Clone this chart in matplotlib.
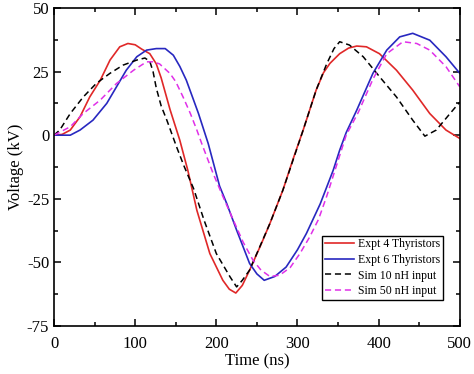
import numpy as np
import matplotlib
matplotlib.use('Agg')
import matplotlib.pyplot as plt
from matplotlib.ticker import MultipleLocator

plt.rcParams['font.family'] = ['Liberation Serif', 'DejaVu Serif']
plt.rcParams['axes.unicode_minus'] = False

# Expt 4 Thyristors
t_exp4 = [0, 10, 20, 32, 44, 57, 69, 81, 91, 100, 108, 118, 126, 132, 143, 155, 165, 176,
          192, 208, 216, 224, 232, 241, 255, 266, 282, 295, 307, 323, 332, 340, 352, 363,
          373, 385, 401, 422, 442, 463, 483, 500]
v_exp4 = [0, 0.3, 2, 7.2, 15, 21.6, 29.5, 34.7, 36, 35.5, 33.8, 32, 28, 22.5, 10, -2, -14,
          -29.5, -46.5, -57, -60.5, -62, -59, -53, -43, -34.7, -21.6, -9, 2, 17.7, 24.5,
          28.2, 32, 34.2, 35, 34.7, 32, 25.5, 17.7, 8.5, 2, -1.3]

# Expt 6 Thyristors
t_exp6 = [0, 10, 20, 32, 48, 65, 77, 89, 102, 114, 126, 137, 147, 155, 163, 170, 178, 190,
          204, 213, 225, 241, 250, 259, 272, 286, 300, 311, 328, 344, 352, 360, 373, 393,
          410, 426, 442, 463, 483, 500]
v_exp6 = [0, 0, 0, 2, 5.9, 12.5, 19, 25.5, 30.8, 33.4, 34, 34, 31.4, 27, 21.6, 15.5, 8.5,
          -3.3, -20, -27, -37.3, -50.4, -54.5, -57, -55.5, -51.8, -45, -38.6, -27, -13.8,
          -5.9, 1, 9.8, 24.3, 33.4, 38.6, 40, 37.3, 30.8, 24.3]

# Sim 10 nH input
t_sim10 = [0, 7, 20, 36, 52, 69, 85, 102, 112, 118, 122, 126, 132, 139, 151, 160, 172, 185,
           200, 217, 225, 232, 241, 266, 282, 307, 323, 336, 345, 352, 364, 381, 401, 422,
           442, 457, 471, 488, 500]
v_sim10 = [0, 2, 8.5, 15, 20.3, 24.3, 27.5, 29.5, 30.3, 29, 25, 18.5, 11.5, 5.9, -4.6, -12,
           -21, -33.5, -46.5, -55.7, -59.6, -57, -53, -34.7, -21.6, 2, 17.7, 28, 34, 36.7,
           35.4, 30.8, 23, 15, 5.9, -0.4, 2, 8.5, 13]

# Sim 50 nH input
t_sim50 = [0, 20, 36, 57, 77, 98, 114, 122, 130, 143, 150, 159, 168, 176, 182, 196, 208, 221,
           233, 245, 255, 266, 278, 291, 303, 315, 326, 336, 348, 360, 375, 393, 410, 430,
           447, 463, 483, 500]
v_sim50 = [0, 3.3, 8.5, 13.8, 20.3, 25.5, 28.8, 28.8, 28, 24.2, 21, 15, 8.5, 2, -3.3, -15,
           -24, -33.4, -42, -49, -53, -55.5, -55, -52, -46.5, -40, -33, -24, -12, 0, 9, 22,
           32, 36.7, 36, 33.4, 26.9, 19]

fig = plt.figure(figsize=(4.74, 3.74), dpi=100)
ax = fig.add_axes([0.114, 0.128, 0.856, 0.851])

ax.plot(t_exp4, v_exp4, color='#e02828', lw=1.2, label='Expt 4 Thyristors')
ax.plot(t_exp6, v_exp6, color='#2828c0', lw=1.2, label='Expt 6 Thyristors')
ax.plot(t_sim10, v_sim10, color='black', lw=1.1, ls=(0, (4, 2.5)), label='Sim 10 nH input')
ax.plot(t_sim50, v_sim50, color='#e030e8', lw=1.1, ls=(0, (4, 2.5)), label='Sim 50 nH input')

ax.set_xlim(0, 500)
ax.set_ylim(-75, 50)
ax.xaxis.set_major_locator(MultipleLocator(100))
ax.xaxis.set_minor_locator(MultipleLocator(50))
ax.yaxis.set_major_locator(MultipleLocator(25))
ax.yaxis.set_minor_locator(MultipleLocator(12.5))
ax.tick_params(which='both', direction='in', top=True, right=True, width=1.1, labelsize=12)
ax.tick_params(which='major', length=5)
ax.tick_params(which='minor', length=3)
ax.tick_params(axis='x', pad=7)
for s in ax.spines.values():
    s.set_linewidth(1.2)

ax.set_xlabel('Time (ns)', fontsize=12, labelpad=1)
ax.set_ylabel('Voltage (kV)', fontsize=12, labelpad=2)

leg = ax.legend(loc='lower left', bbox_to_anchor=(0.66, 0.082), fontsize=8.5,
                frameon=True, fancybox=False, edgecolor='black', framealpha=1,
                handlelength=2.5, borderpad=0.25, labelspacing=0.3, handletextpad=0.3,
                borderaxespad=0)
leg.get_frame().set_linewidth(1.0)

plt.savefig('out.png', dpi=100)
